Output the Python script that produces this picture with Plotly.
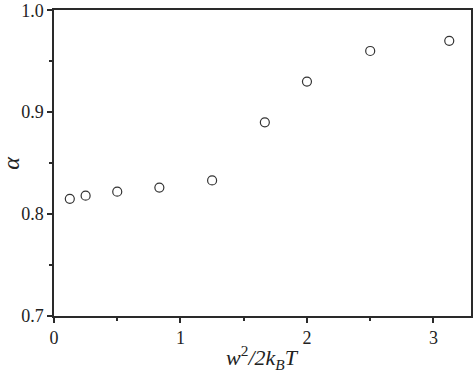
import plotly.graph_objects as go

x_vals = [0.125, 0.25, 0.5, 0.833, 1.25, 1.667, 2.0, 2.5, 3.125]
alpha_vals = [0.815, 0.818, 0.822, 0.826, 0.833, 0.890, 0.930, 0.960, 0.970]
x_ticks = [0, 1, 2, 3]
y_ticks = [0.7, 0.8, 0.9, 1.0]
y_tick_labels = ["0.7", "0.8", "0.9", "1.0"]

axcol = "#2a2a2a"
font = "Liberation Serif"

fig = go.Figure()
fig.add_trace(go.Scatter(
    x=x_vals, y=alpha_vals, mode="markers",
    marker=dict(symbol="circle-open", size=9, color="#333333", line=dict(width=1.2)),
    showlegend=False,
))

common = dict(
    showline=True, linecolor=axcol, linewidth=1.5, mirror=True,
    ticks="outside", ticklen=5, tickwidth=1.5, tickcolor=axcol,
    showgrid=False, zeroline=False, ticklabeloverflow="allow",
    tickfont=dict(family=font, size=18, color="#222"),
)

fig.update_layout(
    width=474, height=374,
    margin=dict(l=54, r=1, t=7, b=58),
    paper_bgcolor="white", plot_bgcolor="white",
    font=dict(family=font),
    xaxis=dict(range=[0, 3.297], tickvals=x_ticks,
               minor=dict(tickvals=[0.5, 1.5, 2.5], ticks="outside", ticklen=3, tickwidth=1.5, tickcolor=axcol),
               **common),
    yaxis=dict(range=[0.7, 1.0002], tickvals=y_ticks, ticktext=y_tick_labels,
               minor=dict(tickvals=[0.75, 0.85, 0.95], ticks="outside", ticklen=3, tickwidth=1.5, tickcolor=axcol),
               **common),
    annotations=[
        dict(text="<i>w</i><sup>2</sup><i>/2k</i><sub><i>B</i></sub><i>T</i>", xref="paper", yref="paper",
             x=0.5, y=-0.135, yanchor="middle", xanchor="center", showarrow=False,
             font=dict(family=font, size=22, color="#222")),
        dict(text="<i>α</i>", xref="paper", yref="paper", x=-0.104, y=0.5, xanchor="center", yanchor="middle",
             showarrow=False, textangle=-90, font=dict(family=font, size=24, color="#222")),
    ],
)

fig.write_html("out.html")
